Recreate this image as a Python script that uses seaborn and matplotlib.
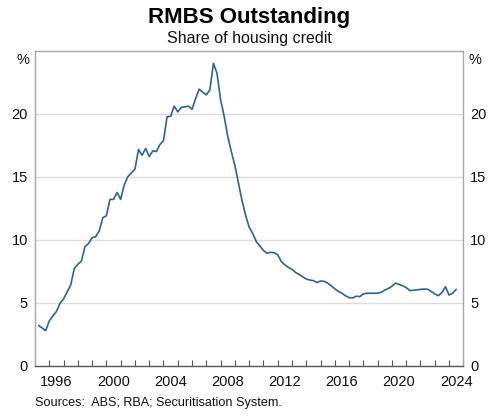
import matplotlib
matplotlib.use("Agg")
import matplotlib.pyplot as plt
import seaborn as sns
import pandas as pd
import numpy as np

# Quarterly data, 1995 Q1 to 2024 Q2 (per cent of housing credit)
start_quarter = "1995Q1"
end_quarter = "2024Q2"
rmbs_share = [
    3.2, 3.0, 2.78, 3.55, 3.95, 4.3, 4.95, 5.3, 5.85, 6.4,
    7.7, 8.05, 8.3, 9.45, 9.7, 10.15, 10.25, 10.7, 11.75, 11.9,
    13.2, 13.2, 13.75, 13.2, 14.35, 15.0, 15.3, 15.6, 17.15, 16.7,
    17.25, 16.6, 17.05, 17.0, 17.55, 17.85, 19.75, 19.8, 20.6, 20.15,
    20.5, 20.55, 20.6, 20.35, 21.2, 21.95, 21.7, 21.5, 21.9, 24.0,
    23.2, 21.1, 19.8, 18.2, 17.0, 15.9, 14.5, 13.1, 11.95, 11.0,
    10.5, 9.85, 9.5, 9.15, 8.92, 9.0, 8.97, 8.8, 8.27, 8.0,
    7.8, 7.65, 7.4, 7.25, 7.05, 6.88, 6.8, 6.75, 6.6, 6.72,
    6.7, 6.55, 6.35, 6.1, 5.9, 5.75, 5.55, 5.4, 5.38, 5.52,
    5.48, 5.7, 5.75, 5.75, 5.75, 5.76, 5.82, 6.0, 6.13, 6.3,
    6.55, 6.45, 6.35, 6.2, 5.97, 5.98, 6.02, 6.06, 6.08, 6.07,
    5.9, 5.7, 5.56, 5.8, 6.27, 5.61, 5.75, 6.06,
]
year_labels = ["1996", "2000", "2004", "2008", "2012", "2016", "2020", "2024"]
y_ticks = [0, 5, 10, 15, 20]

quarters = pd.period_range(start_quarter, end_quarter, freq="Q")
df = pd.DataFrame({
    "date": quarters.year + quarters.quarter / 4.0,
    "share": rmbs_share,
})

sns.set_style("white")
plt.rcParams["font.family"] = ["Liberation Sans", "DejaVu Sans"]

fig = plt.figure(figsize=(5.0, 4.18), dpi=100)
ax = fig.add_axes([0.07, 0.1251, 0.8566, 0.7536])

line_color = "#2f6296"
frame_color = "#a6a6a6"
grid_color = "#dcdcdc"

for v in y_ticks[1:]:
    ax.axhline(v, color=grid_color, lw=1.0, zorder=0)

sns.lineplot(data=df, x="date", y="share", ax=ax, color=line_color, lw=1.2, zorder=3)

ax.set_xlim(1995, 2025)
ax.set_ylim(0, 25)
ax.set_xlabel("")
ax.set_ylabel("")

# Year boundary ticks (inward), labels centred on the year
ax.set_xticks(np.arange(1995, 2026, 1))
ax.set_xticklabels([])
ax.set_xticks([int(y) + 0.5 for y in year_labels], minor=True)
ax.set_xticklabels(year_labels, minor=True)
ax.tick_params(axis="x", which="major", direction="in", length=4, width=0.8,
               color="#555555", bottom=True, top=False)
ax.tick_params(axis="x", which="minor", length=0, pad=6.5, labelsize=10.5,
               colors="#111111")

ax.set_yticks(y_ticks)
ax.set_yticklabels([str(v) for v in y_ticks])
ax.tick_params(axis="y", which="both", length=0, pad=5, labelsize=10.5,
               labelleft=True, labelright=True, colors="#111111")

for side, sp in ax.spines.items():
    sp.set_visible(True)
    sp.set_color(frame_color)
    sp.set_linewidth(1.0)
ax.spines["bottom"].set_color("#555555")

ax.text(-0.012, 24.25 / 25, "%", transform=ax.transAxes, ha="right", va="center",
        fontsize=10.5, color="#111111")
ax.text(1.012, 24.25 / 25, "%", transform=ax.transAxes, ha="left", va="center",
        fontsize=10.5, color="#111111")

fig.text(0.498, 1 - 17.5 / 418, "RMBS Outstanding", ha="center", va="center",
         fontsize=16, fontweight="bold", color="#000000")
fig.text(0.498, 1 - 38.5 / 418, "Share of housing credit", ha="center", va="center",
         fontsize=11.5, color="#111111")
fig.text(0.07, 1 - 403 / 418, "Sources:  ABS; RBA; Securitisation System.",
         ha="left", va="center", fontsize=9.1, color="#111111")

fig.savefig("out.png", dpi=100)
